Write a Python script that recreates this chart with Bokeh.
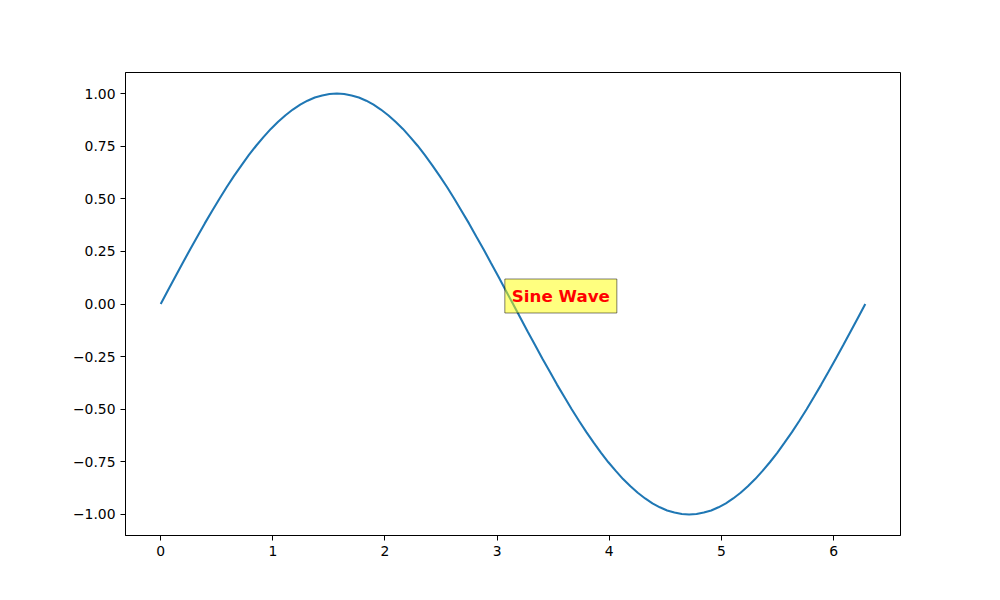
from bokeh.plotting import figure
from bokeh.models import Label, FixedTicker, Range1d
from bokeh.embed import file_html
from bokeh.resources import INLINE

x_vals = [0.000, 0.065, 0.131, 0.196, 0.262, 0.327, 0.393, 0.458, 0.524, 0.589, 0.654, 0.720,
          0.785, 0.851, 0.916, 0.982, 1.047, 1.113, 1.178, 1.244, 1.309, 1.374, 1.440, 1.505,
          1.571, 1.636, 1.702, 1.767, 1.833, 1.898, 1.963, 2.029, 2.094, 2.160, 2.225, 2.291,
          2.356, 2.422, 2.487, 2.553, 2.618, 2.683, 2.749, 2.814, 2.880, 2.945, 3.011, 3.076,
          3.142, 3.207, 3.272, 3.338, 3.403, 3.469, 3.534, 3.600, 3.665, 3.731, 3.796, 3.861,
          3.927, 3.992, 4.058, 4.123, 4.189, 4.254, 4.320, 4.385, 4.451, 4.516, 4.581, 4.647,
          4.712, 4.778, 4.843, 4.909, 4.974, 5.040, 5.105, 5.171, 5.236, 5.301, 5.367, 5.432,
          5.498, 5.563, 5.629, 5.694, 5.760, 5.825, 5.890, 5.956, 6.021, 6.087, 6.152, 6.218,
          6.283]
y_vals = [0.000, 0.065, 0.131, 0.195, 0.259, 0.321, 0.383, 0.442, 0.500, 0.556, 0.609, 0.659,
          0.707, 0.752, 0.793, 0.832, 0.866, 0.897, 0.924, 0.947, 0.966, 0.981, 0.991, 0.998,
          1.000, 0.998, 0.991, 0.981, 0.966, 0.947, 0.924, 0.897, 0.866, 0.832, 0.793, 0.752,
          0.707, 0.659, 0.609, 0.556, 0.500, 0.442, 0.383, 0.321, 0.259, 0.195, 0.131, 0.065,
          0.000, -0.065, -0.131, -0.195, -0.259, -0.321, -0.383, -0.442, -0.500, -0.556, -0.609, -0.659,
          -0.707, -0.752, -0.793, -0.832, -0.866, -0.897, -0.924, -0.947, -0.966, -0.981, -0.991, -0.998,
          -1.000, -0.998, -0.991, -0.981, -0.966, -0.947, -0.924, -0.897, -0.866, -0.832, -0.793, -0.752,
          -0.707, -0.659, -0.609, -0.556, -0.500, -0.442, -0.383, -0.321, -0.259, -0.195, -0.131, -0.065,
          0.000]

x_ticks = [0, 1, 2, 3, 4, 5, 6]
y_ticks = [-1.0, -0.75, -0.5, -0.25, 0.0, 0.25, 0.5, 0.75, 1.0]
y_tick_labels = ["\u22121.00", "\u22120.75", "\u22120.50", "\u22120.25", "0.00", "0.25", "0.50", "0.75", "1.00"]

label_text = "Sine Wave"
label_x = 3.14
label_y = 0.0

p = figure(width=1000, height=600, output_backend="svg", toolbar_location=None,
           x_range=Range1d(-0.314, 6.597), y_range=Range1d(-1.1, 1.1),
           min_border_left=125, min_border_right=100, min_border_top=72, min_border_bottom=65)

p.line(x_vals, y_vals, line_color="#1f77b4", line_width=2.08)

p.xgrid.visible = False
p.ygrid.visible = False
p.outline_line_color = "black"
p.outline_line_width = 1
p.outline_line_alpha = 1.0
p.background_fill_color = "white"
p.border_fill_color = "white"

for ax in (p.xaxis[0], p.yaxis[0]):
    ax.axis_line_color = "black"
    ax.major_tick_line_color = "black"
    ax.major_tick_out = 5
    ax.major_tick_in = 0
    ax.minor_tick_line_color = None
    ax.major_label_text_font = "DejaVu Sans"
    ax.major_label_text_font_size = "13.9px"
    ax.major_label_text_color = "black"
    ax.major_label_standoff = 5

p.xaxis[0].ticker = FixedTicker(ticks=x_ticks)
p.yaxis[0].ticker = FixedTicker(ticks=y_ticks)
p.yaxis[0].major_label_overrides = {t: s for t, s in zip(y_ticks, y_tick_labels)}
p.xaxis[0].major_label_overrides = {t: str(t) for t in x_ticks}

lab = Label(x=label_x, y=label_y, text=label_text, text_font="DejaVu Sans",
            text_font_size="16.7px", text_font_style="bold", text_color="red",
            text_baseline="alphabetic", text_align="left", x_offset=-8, y_offset=8,
            background_fill_color="yellow", background_fill_alpha=0.5,
            border_line_color="black", border_line_alpha=0.5, border_line_width=1,
            padding=7)
p.add_layout(lab)

open("out.html", "w").write(file_html(p, INLINE))
